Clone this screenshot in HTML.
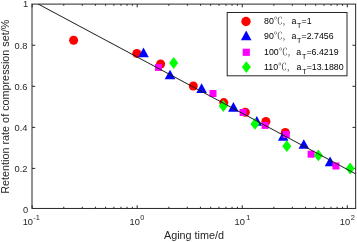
<!DOCTYPE html>
<html><head><meta charset="utf-8"><title>Aging chart</title>
<style>html,body{margin:0;padding:0;background:#fff}.cj{font-family:"Liberation Sans","Noto Serif CJK SC",serif;font-weight:300}</style></head>
<body>
<svg width="357" height="242" viewBox="0 0 357 242" style="display:block">
<rect width="357" height="242" fill="#fff"/>
<rect x="32.0" y="4.1" width="323.65" height="204.35" fill="none" stroke="#262626" stroke-width="1"/>
<path d="M32.0 168.40h3.2M355.65 168.40h-3.2M32.0 127.35h3.2M355.65 127.35h-3.2M32.0 86.30h3.2M355.65 86.30h-3.2M32.0 45.25h3.2M355.65 45.25h-3.2M32.15 208.45v-3.2M32.15 4.1v3.2M63.77 208.45v-1.7M63.77 4.1v1.7M82.27 208.45v-1.7M82.27 4.1v1.7M95.40 208.45v-1.7M95.40 4.1v1.7M105.58 208.45v-1.7M105.58 4.1v1.7M113.89 208.45v-1.7M113.89 4.1v1.7M120.93 208.45v-1.7M120.93 4.1v1.7M127.02 208.45v-1.7M127.02 4.1v1.7M132.39 208.45v-1.7M132.39 4.1v1.7M137.20 208.45v-3.2M137.20 4.1v3.2M168.82 208.45v-1.7M168.82 4.1v1.7M187.32 208.45v-1.7M187.32 4.1v1.7M200.45 208.45v-1.7M200.45 4.1v1.7M210.63 208.45v-1.7M210.63 4.1v1.7M218.94 208.45v-1.7M218.94 4.1v1.7M225.98 208.45v-1.7M225.98 4.1v1.7M232.07 208.45v-1.7M232.07 4.1v1.7M237.44 208.45v-1.7M237.44 4.1v1.7M242.25 208.45v-3.2M242.25 4.1v3.2M273.87 208.45v-1.7M273.87 4.1v1.7M292.37 208.45v-1.7M292.37 4.1v1.7M305.50 208.45v-1.7M305.50 4.1v1.7M315.68 208.45v-1.7M315.68 4.1v1.7M323.99 208.45v-1.7M323.99 4.1v1.7M331.03 208.45v-1.7M331.03 4.1v1.7M337.12 208.45v-1.7M337.12 4.1v1.7M342.49 208.45v-1.7M342.49 4.1v1.7M347.30 208.45v-3.2M347.30 4.1v3.2" stroke="#262626" stroke-width="1" fill="none"/>
<g fill="#ff0000"><circle cx="73.6" cy="40.3" r="4.5"/><circle cx="136.8" cy="53.4" r="4.5"/><circle cx="160.6" cy="64" r="4.5"/><circle cx="193.3" cy="86.0" r="4.5"/><circle cx="223.8" cy="102.6" r="4.5"/><circle cx="245.3" cy="112.3" r="4.5"/><circle cx="265.9" cy="121.5" r="4.5"/><circle cx="285.3" cy="132.4" r="4.5"/></g>
<g fill="#0000ff"><path d="M138.20 57.15L148.80 57.15L143.50 47.45Z"/><path d="M164.70 79.35L175.30 79.35L170.00 69.65Z"/><path d="M196.30 93.05L206.90 93.05L201.60 83.35Z"/><path d="M228.10 111.75L238.70 111.75L233.40 102.05Z"/><path d="M251.50 125.75L262.10 125.75L256.80 116.05Z"/><path d="M277.90 140.85L288.50 140.85L283.20 131.15Z"/><path d="M298.50 148.85L309.10 148.85L303.80 139.15Z"/><path d="M324.80 166.15L335.40 166.15L330.10 156.45Z"/></g>
<g fill="#ff00ff"><rect x="155.00" y="63.90" width="7" height="7"/><rect x="209.50" y="90.00" width="7" height="7"/><rect x="239.60" y="109.00" width="7" height="7"/><rect x="261.60" y="121.90" width="7" height="7"/><rect x="282.80" y="131.00" width="7" height="7"/><rect x="307.60" y="150.70" width="7" height="7"/><rect x="332.40" y="162.50" width="7" height="7"/></g>
<g fill="#00ff00"><path d="M169.20 63L173.7 57.10L178.20 63L173.7 68.90Z"/><path d="M218.80 106.0L223.3 100.10L227.80 106.0L223.3 111.90Z"/><path d="M250.50 123.9L255 118.00L259.50 123.9L255 129.80Z"/><path d="M282.30 146.2L286.8 140.30L291.30 146.2L286.8 152.10Z"/><path d="M313.90 155.4L318.4 149.50L322.90 155.4L318.4 161.30Z"/><path d="M345.60 168.5L350.1 162.60L354.60 168.5L350.1 174.40Z"/></g>
<path d="M38.3 4.1L355.65 173.9" stroke="#1c1c1c" stroke-width="1.05" fill="none"/>
<g font-family="'Liberation Sans', Arial, sans-serif" font-size="9.3" fill="#262626">
<text x="28.20" y="212.90" text-anchor="end">0</text>
<text x="27.50" y="171.85" text-anchor="end">0.2</text>
<text x="27.50" y="130.80" text-anchor="end">0.4</text>
<text x="27.50" y="89.75" text-anchor="end">0.6</text>
<text x="27.50" y="48.70" text-anchor="end">0.8</text>
<text x="28.20" y="7.40" text-anchor="end">1</text>
<text x="22.65" y="224.5">10<tspan dx="0.3" dy="-4.3" font-size="7.4">-1</tspan></text>
<text x="129.50" y="224.5">10<tspan dx="0.3" dy="-4.3" font-size="7.4">0</tspan></text>
<text x="234.55" y="224.5">10<tspan dx="1.3" dy="-4.3" font-size="7.4">1</tspan></text>
<text x="339.80" y="224.5">10<tspan dx="0.7" dy="-4.3" font-size="7.4">2</tspan></text>
</g>
<g font-family="'Liberation Sans', Arial, sans-serif" font-size="10.8" fill="#262626">
<text x="194" y="238.8" text-anchor="middle">Aging time/d</text>
<text transform="translate(9.4 193.7) rotate(-90)">Retention rate of compression set/%</text>
</g>
<rect x="227.2" y="12.5" width="119.80" height="63.30" fill="#fff" stroke="#262626" stroke-width="1"/>
<g fill="#ff0000"><circle cx="246.0" cy="21.5" r="4.7"/></g>
<g fill="#0000ff"><path d="M240.90 40.25L251.50 40.25L246.20 30.55Z"/></g>
<g fill="#ff00ff"><rect x="242.70" y="48.70" width="7.2" height="7.2"/></g>
<g fill="#00ff00"><path d="M241.90 67.1L246.4 61.20L250.90 67.1L246.4 73.00Z"/></g>
<g font-family="'Liberation Sans', Arial, sans-serif" font-size="8.8" fill="#000">
<text x="264.0" y="23.90">80<tspan class="cj">℃，</tspan><tspan dx="0">a</tspan><tspan dx="0.8" dy="4.1" font-size="7">T</tspan><tspan dx="0.2" dy="-4.1">=1</tspan></text>
<text x="264.0" y="38.90">90<tspan class="cj">℃，</tspan><tspan dx="0">a</tspan><tspan dx="0.8" dy="4.1" font-size="7">T</tspan><tspan dx="0.2" dy="-4.1">=2.7456</tspan></text>
<text x="264.0" y="54.90">100<tspan class="cj">℃，</tspan><tspan dx="0">a</tspan><tspan dx="0.8" dy="4.1" font-size="7">T</tspan><tspan dx="0.2" dy="-4.1">=6.4219</tspan></text>
<text x="264.0" y="70.00">110<tspan class="cj">℃，</tspan><tspan dx="0.8">a</tspan><tspan dx="0.8" dy="4.1" font-size="7">T</tspan><tspan dx="0.2" dy="-4.1">=13.1880</tspan></text>
</g>
</svg>
</body></html>
